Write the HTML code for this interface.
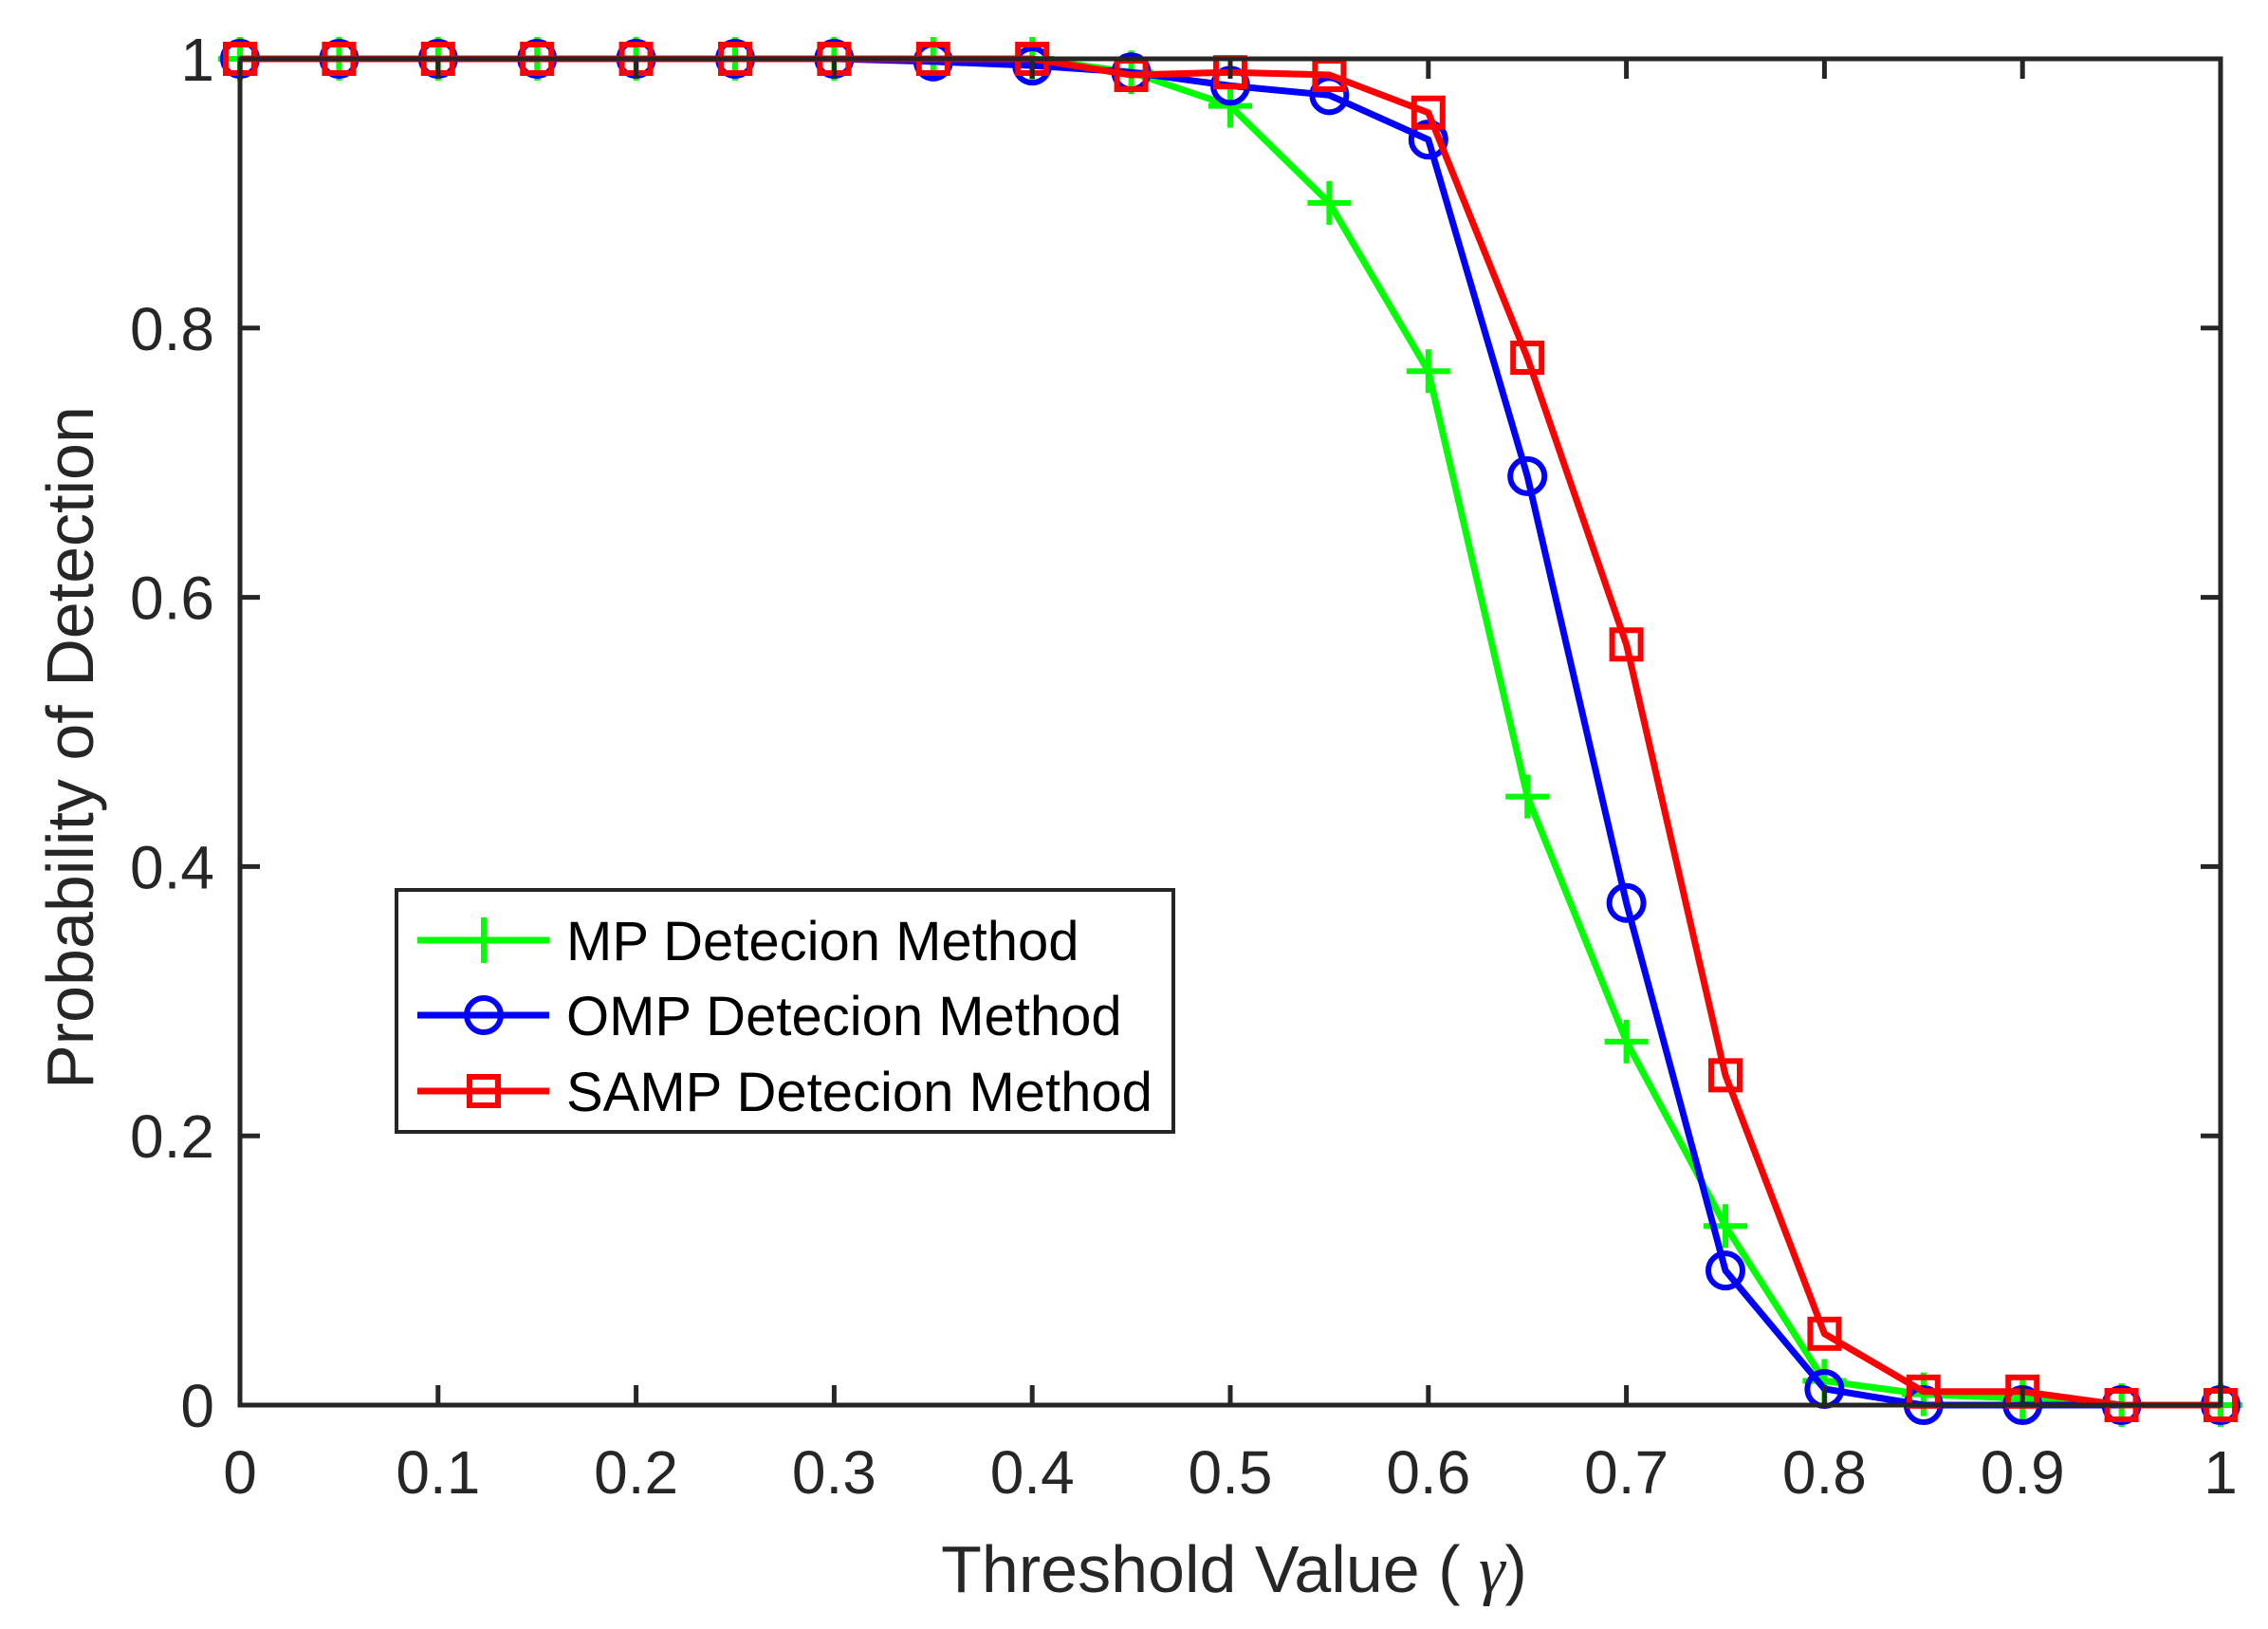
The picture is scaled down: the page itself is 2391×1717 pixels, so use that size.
<!DOCTYPE html>
<html><head><meta charset="utf-8"><style>
html,body{margin:0;padding:0;background:#fff}
svg text{font-family:"Liberation Sans",sans-serif;fill:#262626}
</style></head><body>
<svg id="s" width="2391" height="1712" xmlns="http://www.w3.org/2000/svg">
<rect width="2391" height="1712" fill="#fff"/>
<g id="plot"></g>
<g id="ax" stroke="#262626" stroke-width="5" fill="none">
<rect x="253" y="62" width="2088" height="1419"/>
</g>
<g id="ticks" stroke="#262626" stroke-width="5"></g>
<g id="labels" font-size="64"></g>
<text x="1301" y="1678" font-size="70" text-anchor="middle">Threshold Value ( <tspan font-family="Liberation Serif" font-style="italic">γ</tspan>)</text>
<text transform="translate(98,788) rotate(-90)" font-size="70" text-anchor="middle">Probability of Detection</text>
<g>
<rect x="418" y="938" width="819" height="255" fill="#fff" stroke="#262626" stroke-width="4"/>
<line x1="440" y1="991" x2="579" y2="991" stroke="#00ff00" stroke-width="7"/>
<path d="M488 991H532M510 967V1015" stroke="#00ff00" stroke-width="6"/>
<line x1="440" y1="1070" x2="579" y2="1070" stroke="#0000ff" stroke-width="7"/>
<circle cx="510" cy="1070" r="18" fill="none" stroke="#0000ff" stroke-width="6"/>
<line x1="440" y1="1150" x2="579" y2="1150" stroke="#ff0000" stroke-width="7"/>
<rect x="495" y="1135" width="30" height="30" fill="none" stroke="#ff0000" stroke-width="6"/>
<text x="597" y="1012" font-size="58" style="fill:#000">MP Detecion Method</text>
<text x="597" y="1091" font-size="58" style="fill:#000">OMP Detecion Method</text>
<text x="597" y="1171" font-size="58" style="fill:#000">SAMP Detecion Method</text>
</g>
</svg>
<script>
const X=v=>253+2088*v, Y=v=>1481-1419*v;
const ns="http://www.w3.org/2000/svg";
function el(p,t,a,txt){const e=document.createElementNS(ns,t);for(const k in a)e.setAttribute(k,a[k]);if(txt!==undefined)e.textContent=txt;document.getElementById(p).appendChild(e);return e;}
for(let i=0;i<=10;i++){const v=i/10,x=X(v);
 el('ticks','line',{x1:x,y1:1481,x2:x,y2:1460});el('ticks','line',{x1:x,y1:62,x2:x,y2:83});
 el('labels','text',{x:x,y:1574,'text-anchor':'middle'},i==0?'0':i==10?'1':v.toFixed(1));}
for(let i=0;i<=5;i++){const v=i/5,y=Y(v);
 el('ticks','line',{x1:253,y1:y,x2:274,y2:y});el('ticks','line',{x1:2341,y1:y,x2:2320,y2:y});
 el('labels','text',{x:226,y:y+23,'text-anchor':'end'},i==0?'0':i==5?'1':v.toFixed(1));}
const MP=[1,1,1,1,1,1,1,1,1,0.99,0.965,0.893,0.768,0.452,0.27,0.133,0.018,0.008,0.005,0,0];
const OMP=[1,1,1,1,1,1,1,0.998,0.995,0.99,0.98,0.973,0.94,0.69,0.373,0.1,0.012,0,0,0,0];
const SAMP=[1,1,1,1,1,1,1,1,1,0.988,0.99,0.988,0.96,0.778,0.565,0.245,0.053,0.01,0.01,0,0];
function series(d,c,m){const pts=d.map((v,i)=>X(i*0.05)+','+Y(v)).join(' ');
 el('plot','polyline',{points:pts,fill:'none',stroke:c,'stroke-width':7,'stroke-linejoin':'round'});
 d.forEach((v,i)=>{const x=X(i*0.05),y=Y(v);
  if(m=='+')el('plot','path',{d:`M${x-23} ${y}H${x+23}M${x} ${y-23}V${y+23}`,stroke:c,'stroke-width':6});
  if(m=='o')el('plot','circle',{cx:x,cy:y,r:18,fill:'none',stroke:c,'stroke-width':6});
  if(m=='s')el('plot','rect',{x:x-15,y:y-15,width:30,height:30,fill:'none',stroke:c,'stroke-width':6});});}
series(MP,'#00ff00','+');series(OMP,'#0000ff','o');series(SAMP,'#ff0000','s');
</script>
</body></html>
